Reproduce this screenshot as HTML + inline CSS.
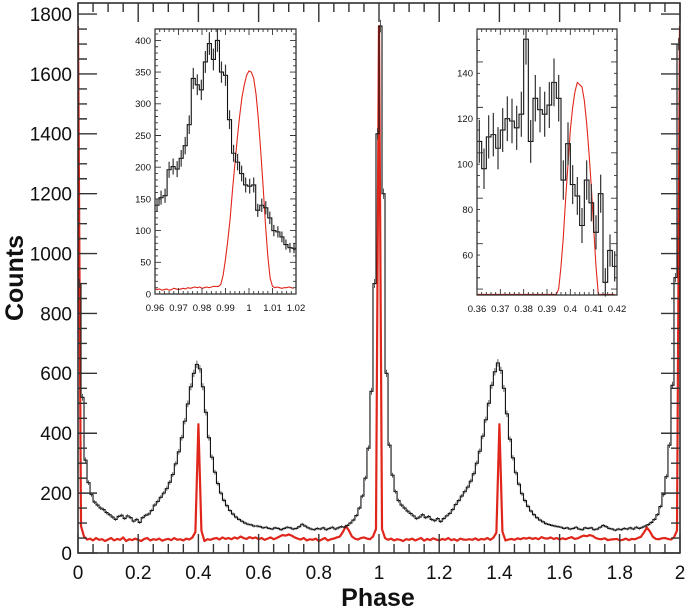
<!DOCTYPE html>
<html><head><meta charset="utf-8"><style>
html,body{margin:0;padding:0;background:#fff;}
svg{display:block;font-family:"Liberation Sans",Arial,sans-serif;}
</style></head><body>
<svg id="chart" width="685" height="610" viewBox="0 0 685 610" xmlns="http://www.w3.org/2000/svg"></svg>
<script>
// ---- main chart data ----
const mainBlack = [
900,520,310,235,195,170,160,150,145,135,
128,120,112,122,126,115,124,118,106,112,
102,118,126,130,142,160,172,186,200,215,
236,262,298,338,385,440,498,555,600,630,
615,555,470,385,320,270,232,200,176,158,
142,130,120,112,106,100,96,94,90,90,
88,84,86,82,80,84,82,78,82,86,
84,80,82,88,96,90,84,80,78,82,
80,84,78,82,86,80,84,88,86,92,
100,110,125,150,190,250,350,540,900,1400,
1760,1200,600,360,260,205,175,160,150,140,
132,124,115,120,128,118,122,112,108,115,
105,115,124,132,145,162,175,190,205,220,
240,265,300,340,390,445,500,560,605,635,
610,550,465,380,318,268,230,198,175,156,
140,128,118,110,104,98,95,92,90,88,
86,82,84,80,82,86,80,78,84,82,
84,78,80,86,92,88,82,80,76,80,
78,82,80,84,80,86,82,86,90,95,
102,112,128,155,195,255,360,560,920,1700];
const mainRed = [
1760,90,55,45,48,42,50,44,46,40,
45,50,42,47,44,52,40,46,43,48,
44,40,47,50,42,46,44,48,41,45,
47,43,50,44,46,42,48,45,52,70,
430,75,40,46,44,48,50,45,52,47,
50,46,52,48,55,50,47,53,49,52,
46,50,44,48,52,46,50,55,60,58,
62,58,52,48,45,50,42,46,44,48,
40,45,50,42,46,48,52,55,70,90,
75,55,48,45,50,52,48,46,55,80,
1760,80,50,44,48,42,46,44,40,46,
44,48,42,46,50,41,47,43,49,45,
42,47,44,50,43,46,41,48,45,44,
46,44,49,43,47,45,50,44,51,68,
430,72,42,45,47,44,49,46,50,48,
51,47,50,46,53,49,48,52,47,50,
45,49,46,50,53,47,49,54,58,56,
60,57,50,47,46,49,43,45,46,47,
42,44,48,43,47,46,50,54,68,85,
72,54,47,46,49,50,47,45,52,75,1760];
const mainXTicks = ["0","0.2","0.4","0.6","0.8","1","1.2","1.4","1.6","1.8","2"];
const mainYTicks = ["0","200","400","600","800","1000","1200","1400","1600","1800"];
// ---- inset 1 data ----
const in1Black = [140,152,155,196,201,197,214,234,267,340,330,322,366,395,370,400,350,345,275,222,208,190,172,170,172,132,140,136,120,100,98,90,78,73,72];
const in1Red = [8,7,8,6,7,8,6,7,9,8,7,8,9,8,10,9,10,11,10,11,9,10,11,10,11,12,12,12,
15,30,55,85,120,165,205,245,280,310,330,345,352,350,340,315,275,225,170,110,60,25,12,
10,11,10,9,10,10,11,10,9];
const in1XTicks = ["0.96","0.97","0.98","0.99","1","1.01","1.02"];
const in1YTicks = ["0","50","100","150","200","250","300","350","400"];
// ---- inset 2 data ----
const in2Black = [110,98,112,113,107,115,120,119,116,122,155,110,129,124,122,126,136,129,93,109,91,86,73,93,83,70,87,48,62,55];
const in2Red = [0,0,0,0,0,0,0,0,0,0,0,0,0,0,0,0,0,0,0,0,0,0,0,0,0,0,0,0,0,0,0,0,0,0,0,
45,55,68,85,100,115,125,132,136,135,134,128,118,105,90,72,55,40,0,0,0,0,0,0,0];
const in2XTicks = ["0.36","0.37","0.38","0.39","0.4","0.41","0.42"];
const in2YTicks = ["60","80","100","120","140"];

const NS="http://www.w3.org/2000/svg";
const svg=document.getElementById('chart');
function mk(tag,attrs,parent){const e=document.createElementNS(NS,tag);for(const k in attrs)e.setAttribute(k,attrs[k]);(parent||svg).appendChild(e);return e;}

function panel(o){
  const g=mk('g',{});
  
  
  const X=v=>o.x0+(v-o.xmin)/(o.xmax-o.xmin)*(o.x1-o.x0);
  const Y=v=>o.y0-(v-o.ymin)/(o.ymax-o.ymin)*(o.y0-o.y1);
  const clipId=o.name+'-clip';
  const cp=mk('clipPath',{id:clipId},g);
  mk('rect',{x:o.x0,y:o.y1,width:o.x1-o.x0,height:o.y0-o.y1+2},cp);
  const bg=mk('rect',{x:o.x0,y:o.y1,width:o.x1-o.x0,height:o.y0-o.y1,fill:'#fff'},g);
  
  
  const dg=mk('g',{'clip-path':'url(#'+clipId+')'},g);
  {
    const st=o.redStep;
    let d='';
    o.red.forEach((v,i)=>{const vv=Math.max(v,o.ymin);d+=(i?'L':'M')+X(o.xmin+i*st).toFixed(2)+','+(Y(vv)-(vv===o.ymin?0.6:0)).toFixed(2);});
    const p=mk('path',{d:d,fill:'none',stroke:'#e0261b','stroke-width':o.redW,'stroke-linejoin':'round'},dg);
    
    
  }
  {
    const n=o.black.length, w=(o.xmax-o.xmin)/n;
    let d='';
    o.black.forEach((v,i)=>{const xa=X(o.xmin+i*w),xb=X(o.xmin+(i+1)*w),y=Y(v);d+=(i?'L':'M')+xa.toFixed(2)+','+y.toFixed(2)+'L'+xb.toFixed(2)+','+y.toFixed(2);});
    const p=mk('path',{d:d,fill:'none',stroke:'#111','stroke-width':o.blackW},dg);
    
    
    let e='';
    o.black.forEach((v,i)=>{const xc=X(o.xmin+(i+0.5)*w),s=Math.sqrt(v)*o.errK;e+='M'+xc.toFixed(2)+','+Y(v+s).toFixed(2)+'L'+xc.toFixed(2)+','+Y(v-s).toFixed(2);});
    const eb=mk('path',{d:e,fill:'none',stroke:'#333','stroke-width':o.errW},dg);
    
    
  }
  const fr=mk('rect',{x:o.x0,y:o.y1,width:o.x1-o.x0,height:o.y0-o.y1,fill:'none',stroke:'#222','stroke-width':o.frameW},g);
  
  
  let t='';
  for(let v=o.xmin;v<=o.xmax+1e-9;v+=o.xMinor){
    const ix=Math.round((v-o.xmin)/o.xMinor);
    const major=ix%o.xMajEvery===0;
    const L=major?o.majL:o.minL;const x=X(v).toFixed(2);
    t+='M'+x+','+o.y0+'v'+(-L)+'M'+x+','+o.y1+'v'+L;
  }
  for(let v=o.yTickStart;v<=o.ymax+1e-9;v+=o.yMinor){
    const ix=Math.round((v-o.yTickStart)/o.yMinor);
    const major=ix%o.yMajEvery===0;
    const L=major?o.majL:o.minL;const y=Y(v).toFixed(2);
    t+='M'+o.x0+','+y+'h'+L+'M'+o.x1+','+y+'h'+(-L);
  }
  const tk=mk('path',{d:t,fill:'none',stroke:'#333','stroke-width':o.tickW},g);
  
  
  o.xTicks.forEach((s,i)=>{
    const v=o.xmin+i*(o.xmax-o.xmin)/(o.xTicks.length-1);
    const tx=mk('text',{x:X(v),y:o.y0+o.xLabOff,'font-size':o.fs,'text-anchor':'middle',fill:'#111'},g);
    tx.textContent=s;
    
    
  });
  o.yTicks.forEach((s,i)=>{
    const v=parseFloat(s);
    const tx=mk('text',{x:o.x0-o.yLabOff,y:Y(v)+o.fs*0.36,'font-size':o.fs,'text-anchor':'end',fill:'#111'},g);
    tx.textContent=s;
    
    
  });
}

panel({name:'main-plot',x0:78,x1:680,y0:553,y1:3,xmin:0,xmax:2,ymin:0,ymax:1837,
  black:mainBlack,red:mainRed,redStep:0.01,redW:2.2,blackW:1.1,errK:0.5,errW:0.8,frameW:1.5,tickW:1.4,
  xMinor:0.05,xMajEvery:4,yTickStart:0,yMinor:50,yMajEvery:4,majL:19,minL:9,
  xTicks:mainXTicks,yTicks:mainYTicks,fs:19,xLabOff:26,yLabOff:6});
panel({name:'inset-peak-1',x0:155,x1:296,y0:294,y1:29,xmin:0.96,xmax:1.02,ymin:0,ymax:418,
  black:in1Black,red:in1Red,redStep:0.001,redW:1.1,blackW:1.1,errK:0.9,errW:1.2,frameW:1.2,tickW:0.9,
  xMinor:0.002,xMajEvery:5,yTickStart:0,yMinor:10,yMajEvery:5,majL:6,minL:3,
  xTicks:in1XTicks,yTicks:in1YTicks,fs:9.5,xLabOff:17,yLabOff:4});
panel({name:'inset-peak-2',x0:477,x1:617,y0:295,y1:29,xmin:0.36,xmax:0.42,ymin:42.4,ymax:159.5,
  black:in2Black,red:in2Red,redStep:0.001,redW:1.1,blackW:1.1,errK:0.9,errW:1.2,frameW:1.2,tickW:0.9,
  xMinor:0.002,xMajEvery:5,yTickStart:45,yMinor:5,yMajEvery:4,majL:6,minL:3,
  xTicks:in2XTicks,yTicks:in2YTicks,fs:9.5,xLabOff:17,yLabOff:4});

const yt=mk('text',{x:0,y:0,'font-size':25,'font-weight':'bold','text-anchor':'middle',fill:'#111',transform:'translate(23,278) rotate(-90)'});
yt.textContent='Counts';


const xt=mk('text',{x:378,y:606,'font-size':25,'font-weight':'bold','text-anchor':'middle',fill:'#111'});
xt.textContent='Phase';


</script>
</body></html>
